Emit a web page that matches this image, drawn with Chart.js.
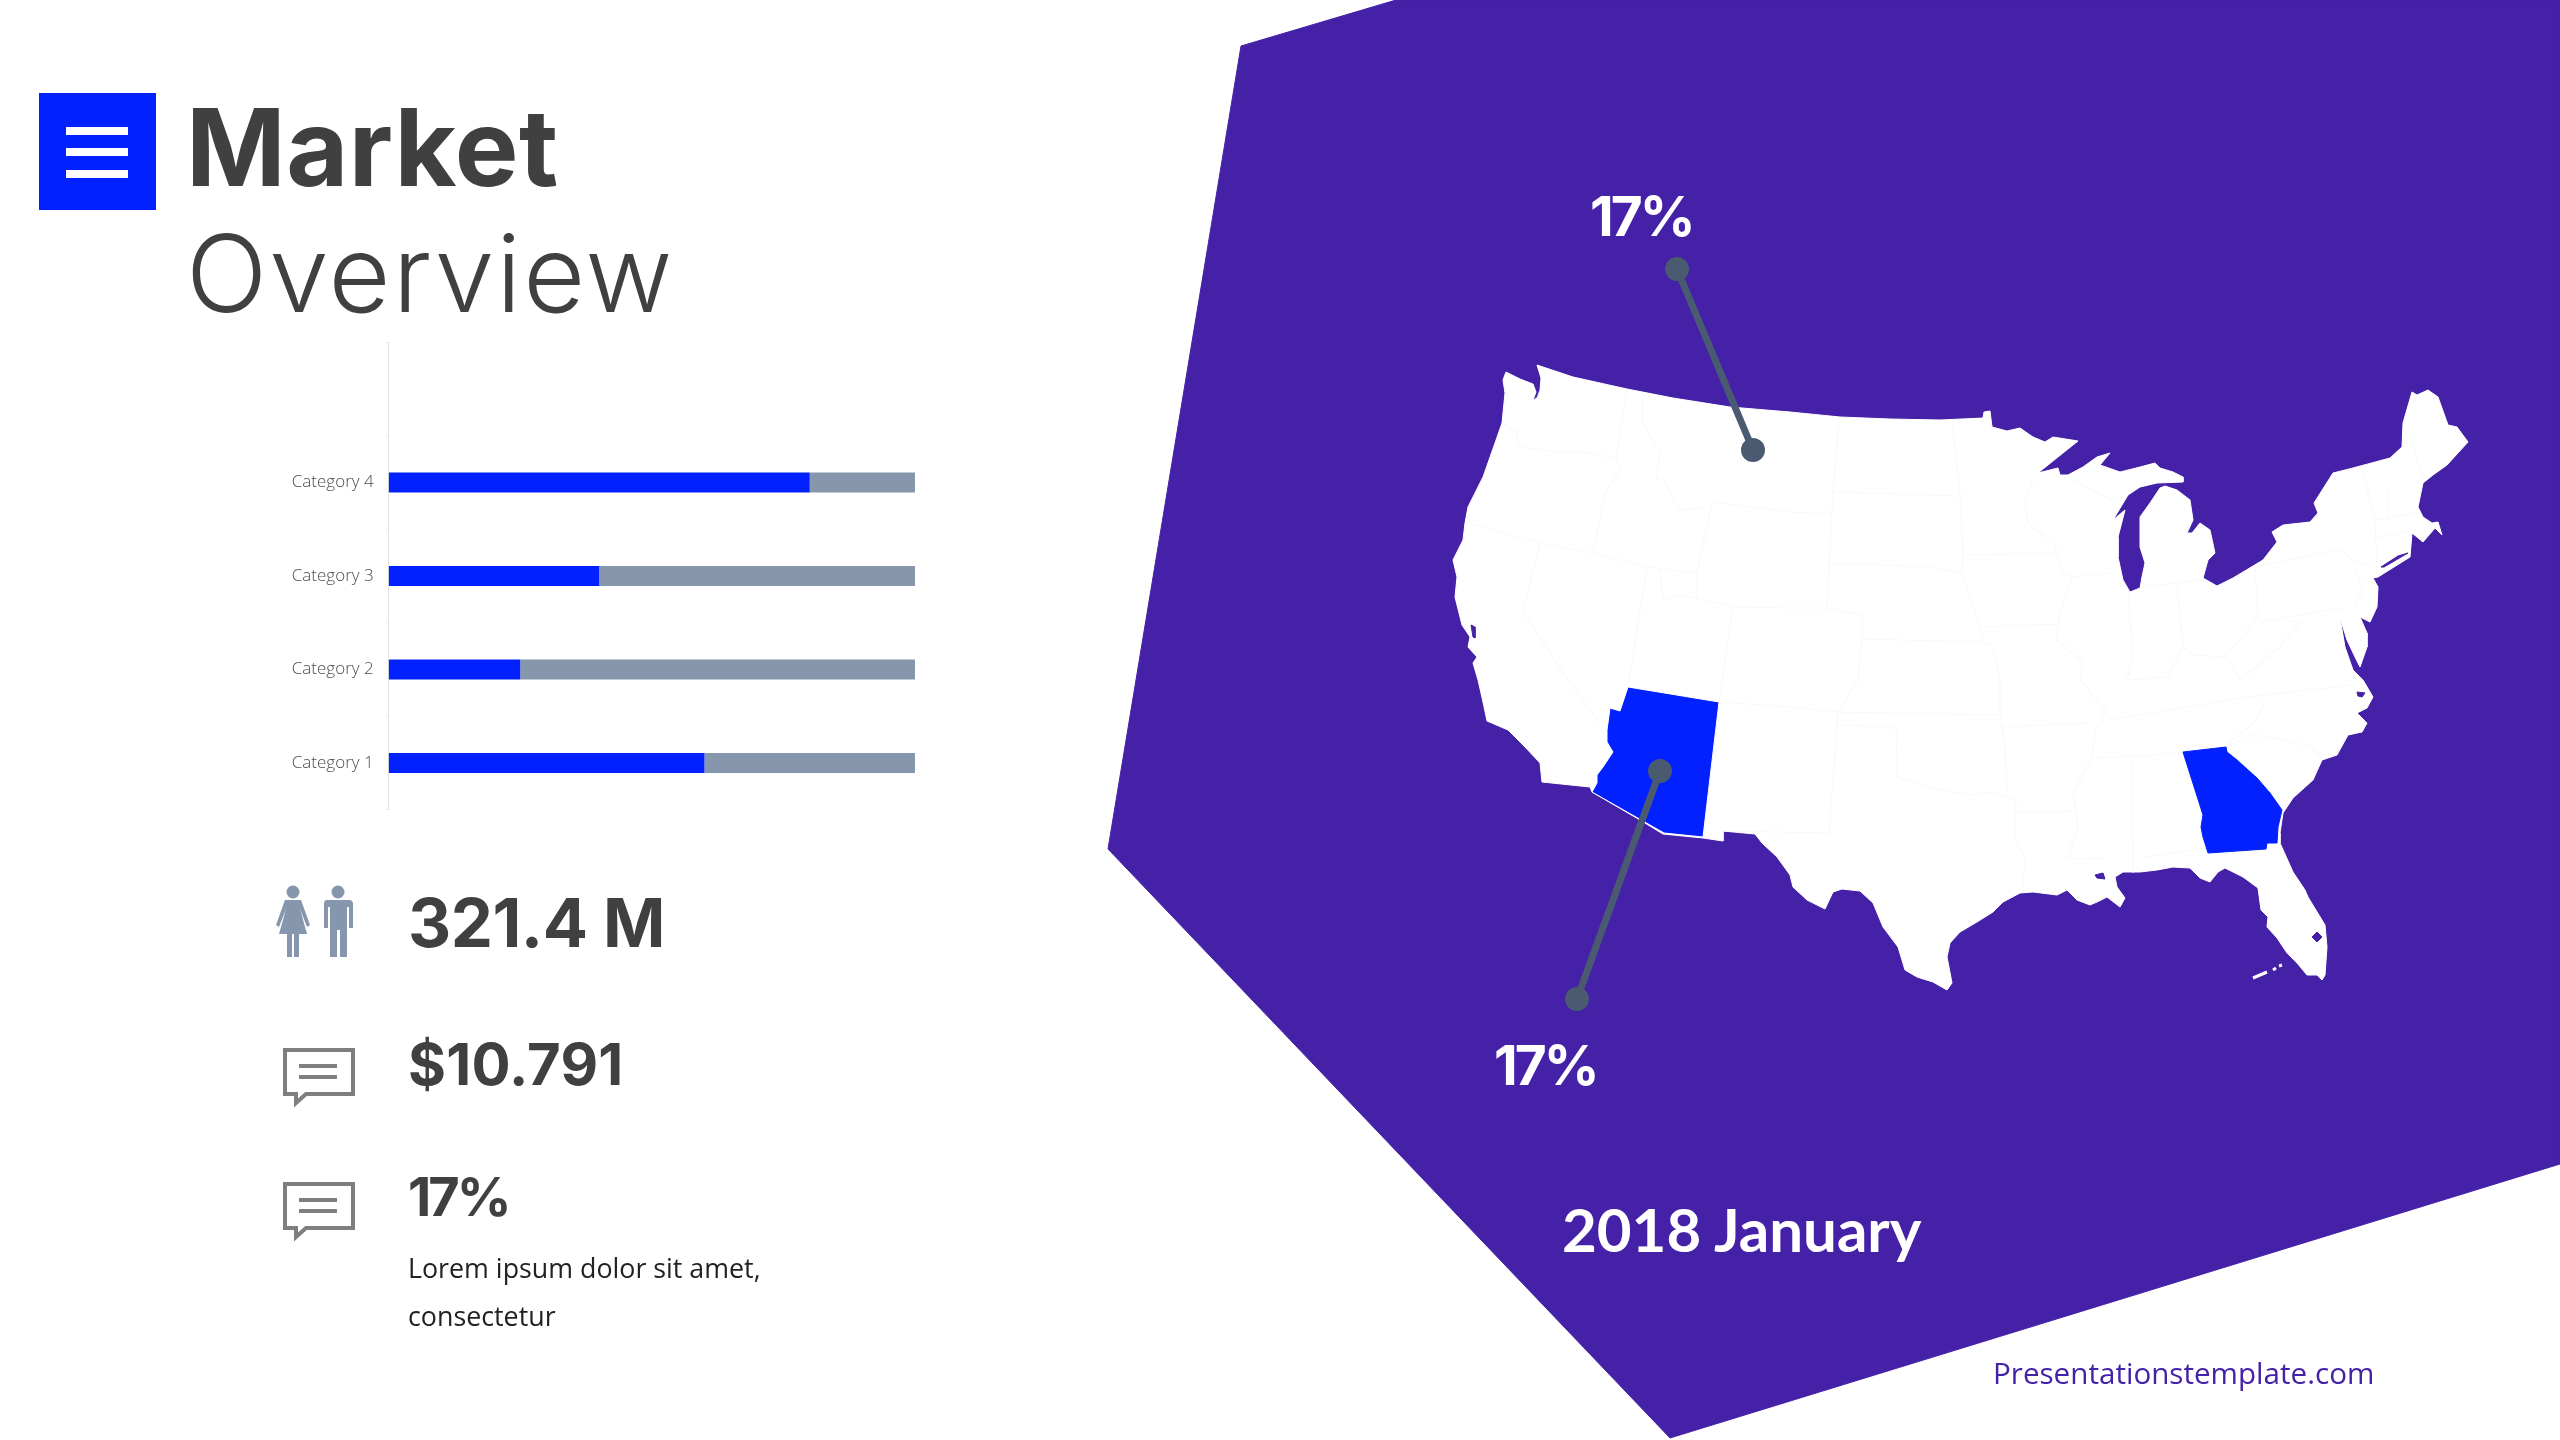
<!DOCTYPE html>
<html>
<head>
<meta charset="utf-8">
<title>Market Overview</title>
<script src="https://cdn.jsdelivr.net/npm/chart.js@4"></script>
<style>
  html, body { margin: 0; padding: 0; background: #fff; width: 2560px; height: 1440px; overflow: hidden; }
  canvas, svg { position: absolute; }
  .t { position: absolute; line-height: 1; white-space: nowrap; font-family: Inter, sans-serif; color: #404040; }
  .b { font-weight: 700; }
  .w { color: #fff; }
  .o { font-family: "Open Sans", sans-serif; }
</style>
</head>
<body>
<canvas id="graficoMapa" width="2560" height="1440" style="left:0;top:0"></canvas>

<svg width="2560" height="1440" style="left:0;top:0">
  <rect x="39" y="93" width="117" height="117" fill="#0320ff"/>
  <rect x="66" y="127" width="62" height="8" fill="#fff"/>
  <rect x="66" y="148" width="62" height="8" fill="#fff"/>
  <rect x="66" y="170" width="62" height="8" fill="#fff"/>
  <g fill="#8596ad">
    <circle cx="293" cy="892" r="6.5"/>
    <path d="M285 900h16l9 25-3 2-7-18 7 25h-8v23h-5v-23h-2v23h-5v-23h-8l7-25-7 18-3-2z"/>
    <circle cx="338" cy="892" r="6.5"/>
    <path d="M327 900h22q4 0 4 4v24h-4v-21h-2v50h-7v-27h-3v27h-7v-50h-2v21h-4v-24q0-4 3-4z"/>
  </g>
  <g fill="none" stroke="#7f7f7f" stroke-width="4">
    <path d="M285 1050h68v44h-47l-10 9v-9h-11z"/>
    <path d="M299 1066h38M299 1077h38"/>
    <path d="M285 1184h68v44h-47l-10 9v-9h-11z"/>
    <path d="M299 1200h38M299 1211h38"/>
  </g>
</svg>

<div class="t b" style="left:186px;top:94px;font-size:107px;letter-spacing:0.5px">Market</div>
<div class="t" style="left:186px;top:220px;font-size:107px;font-weight:300;letter-spacing:2px">Overview</div>

<canvas id="graficoBarras" width="700" height="512" style="left:240px;top:320px"></canvas>

<div class="t b" style="left:408px;top:889px;font-size:67px;letter-spacing:-0.5px">321.4 M</div>
<div class="t b" style="left:408px;top:1035px;font-size:58px;letter-spacing:0.2px">$10.791</div>
<div class="t b" style="left:408px;top:1170px;font-size:54px;letter-spacing:-3px">17%</div>
<div class="t o" style="left:408px;top:1255px;font-size:26.8px;color:#222">Lorem ipsum dolor sit amet,</div>
<div class="t o" style="left:408px;top:1303px;font-size:26.8px;color:#222">consectetur</div>

<div class="t b w" style="left:1590px;top:189px;font-size:55px;letter-spacing:-3px">17%</div>
<div class="t b w" style="left:1494px;top:1038px;font-size:55px;letter-spacing:-3px">17%</div>
<div class="t b w" style="left:1562px;top:1199px;font-size:60px;font-family:Lato,sans-serif">2018 January</div>
<div class="t o" style="left:1993px;top:1358px;font-size:29.6px;color:#4521a8">Presentationstemplate.com</div>

<script>
// datos del grafico de barras
const categorias = ["", "Category 4", "Category 3", "Category 2", "Category 1"];
const serieAzul = [null, 80, 40, 25, 60];
const serieGris = [null, 20, 60, 75, 40];

// fondo morado
const fondo = [[1396,0],[1241,46],[1108,849],[1670,1438],[2560,1164],[2560,0]];

// contorno de EEUU
const contorno = [
  [1506,372],[1520,379],[1533,384],[1536,392],[1533,400],[1537,398],[1540,390],[1541,378],[1537,365],
  [1573,377],[1627,389],[1673,398],[1730,407],[1790,412],[1840,417],[1890,419],[1940,420],[1983,418],
  [1984,412],[1990,411],[1992,427],[2007,431],[2020,428],[2033,437],[2045,442],[2053,437],[2078,441],
  [2038,473],[2058,468],[2060,475],[2068,475],[2083,467],[2097,457],[2110,453],[2100,465],[2120,472],
  [2140,467],[2155,463],[2160,468],[2173,472],[2183,477],[2183,482],[2157,483],[2140,487],[2128,495],
  [2113,520],[2125,510],[2118,537],[2118,557],[2123,580],[2130,592],[2140,588],[2142,577],[2145,563],
  [2140,547],[2140,517],[2150,503],[2160,488],[2165,486],[2177,490],[2190,500],[2193,520],[2187,533],
  [2192,533],[2200,523],[2210,530],[2215,553],[2208,560],[2203,578],[2217,586],[2233,578],[2263,560],
  [2277,542],[2272,532],[2283,525],[2310,522],[2318,513],[2314,503],[2333,473],[2353,468],[2390,458],
  [2402,447],[2403,423],[2412,392],[2417,395],[2428,390],[2438,397],[2448,425],[2457,427],[2468,442],
  [2447,465],[2433,475],[2423,483],[2418,507],[2423,517],[2432,523],[2438,522],[2442,535],[2435,528],
  [2423,542],[2412,533],[2410,557],[2378,577],[2373,578],[2378,587],[2377,607],[2370,622],[2360,617],
  [2367,633],[2367,647],[2360,667],[2355,657],[2347,640],[2340,618],[2345,647],[2353,670],[2363,680],
  [2373,697],[2367,708],[2357,713],[2367,723],[2362,732],[2348,735],[2337,755],[2322,760],[2313,780],
  [2293,798],[2283,813],[2280,833],[2280,843],[2293,872],[2305,890],[2308,897],[2325,925],[2327,947],
  [2325,975],[2322,980],[2317,975],[2307,975],[2297,963],[2287,953],[2277,938],[2267,927],[2268,917],
  [2261,910],[2258,888],[2243,877],[2225,868],[2218,872],[2210,882],[2200,878],[2190,868],[2173,867],
  [2157,870],[2140,872],[2123,872],[2115,877],[2117,887],[2125,898],[2120,907],[2107,897],[2097,902],
  [2090,905],[2077,900],[2067,890],[2057,895],[2033,892],[2020,893],[2003,902],[1993,912],[1977,922],
  [1960,932],[1950,943],[1947,957],[1952,983],[1947,990],[1933,982],[1917,977],[1905,970],[1898,947],
  [1883,927],[1873,903],[1860,891],[1842,889],[1833,892],[1825,909],[1807,900],[1793,887],[1790,875],
  [1777,857],[1762,843],[1755,834],[1723,831],[1723,841],[1703,838],[1663,834],[1640,820],[1592,792],
  [1590,787],[1542,782],[1540,763],[1525,747],[1508,730],[1487,721],[1483,702],[1478,680],[1473,663],
  [1477,657],[1468,647],[1470,637],[1462,625],[1455,597],[1457,577],[1453,560],[1463,540],[1465,523],
  [1468,507],[1483,477],[1495,443],[1502,423],[1505,393],[1503,380]
];

const arizona = [
  [1628,687],[1719,702],[1703,837],[1664,833],[1592,792],[1597,783],[1597,775],[1603,767],[1613,752],
  [1607,742],[1607,730],[1610,708],[1620,711]
];
const georgia = [
  [2183,752],[2226,747],[2227,752],[2237,760],[2257,778],[2270,793],[2282,810],[2278,827],[2277,843],
  [2267,843],[2266,849],[2208,853],[2203,837],[2201,827],[2203,815]
];

// agua dentro del contorno
const lagos = [
  [[2317,932],[2322,937],[2317,942],[2312,937]],
  [[2381,567],[2398,556],[2408,553],[2396,560],[2384,567]],
  [[2095,875],[2103,873],[2105,879],[2097,878]],
  [[2357,692],[2365,693],[2362,697],[2358,696]],
  [[1471,625],[1475,627],[1475,638],[1473,637]]
];
const cayos = [[2253,978],[2267,972],null,[2273,970],[2276,968],null,[2279,966],[2282,965]];

// fronteras entre estados, null corta la linea
const fronteras = [
  [1503,423],[1517,433],[1518,447],[1557,452],[1592,453],[1616,459],null,
  [1627,389],[1616,459],[1620,470],[1605,493],[1603,503],[1593,553],null,
  [1643,392],[1642,420],[1660,453],[1656,478],[1665,480],[1678,510],[1707,508],null,
  [1712,502],[1697,573],[1697,598],null,
  [1712,502],[1790,512],[1832,514],null,
  [1468,523],[1540,543],[1593,553],[1647,567],[1697,573],null,
  [1540,543],[1523,612],[1568,680],[1603,727],null,
  [1647,567],[1628,687],null,
  [1660,568],[1663,600],[1678,596],[1697,598],[1733,607],[1790,608],[1827,608],[1862,615],[1862,639],[1983,642],null,
  [1733,607],[1719,702],null,
  [1839,423],[1833,492],[1827,608],null,
  [1833,492],[1960,496],null,
  [1832,563],[1928,567],[1962,573],[1980,627],[1983,642],[1993,647],[2000,680],[2000,715],[2005,747],[2007,795],null,
  [1952,423],[1960,493],[1963,553],[1962,573],null,
  [1963,555],[2057,553],null,
  [2033,480],[2025,500],[2028,523],[2055,545],[2062,573],[2072,577],[2112,573],null,
  [2073,480],[2115,502],null,
  [1980,627],[2058,624],[2063,603],[2072,577],null,
  [2058,624],[2057,640],[2083,663],[2080,680],[2107,712],[2095,730],[2092,758],[2073,793],[2078,827],[2067,859],[2105,858],null,
  [1862,639],[1858,680],[1838,712],null,
  [2128,592],[2133,660],[2127,680],[2168,677],[2183,647],[2177,585],null,
  [2140,587],[2202,580],null,
  [2255,567],[2258,618],null,
  [2255,567],[2340,549],[2353,560],[2377,567],null,
  [2260,622],[2347,607],null,
  [2353,560],[2363,590],[2355,605],null,
  [2183,647],[2193,655],[2225,657],[2240,640],[2257,618],null,
  [2228,658],[2240,680],[2280,647],[2300,623],[2282,620],null,
  [2363,472],[2375,520],[2377,563],null,
  [2388,487],[2387,520],null,
  [2410,435],[2423,480],null,
  [2375,520],[2417,513],null,
  [2375,538],[2408,532],null,
  [1719,702],[1790,707],[1838,712],[2000,715],null,
  [1838,712],[1837,725],[1896,727],[1897,777],[1930,788],[1970,795],[1987,792],[2007,797],[2016,800],[2015,840],[2025,857],[2023,887],null,
  [1838,712],[1829,833],[1723,831],null,
  [2016,812],[2073,811],null,
  [2002,727],[2088,723],null,
  [2132,758],[2133,873],null,
  [2100,721],[2140,715],[2247,697],[2353,685],null,
  [2092,758],[2140,756],[2183,752],null,
  [2227,745],[2255,722],[2265,700],null,
  [2226,747],[2253,735],[2287,740],[2313,748],[2322,758],null,
  [2143,857],[2208,848]
];

// lineas con punto
const lineaNorte = [[1677,269],[1753,450]];
const lineaSur = [[1660,771],[1577,999]];

const aXY = (p) => (p ? { x: p[0], y: p[1] } : { x: null, y: null });

function poligono(puntos, color, orden, borde) {
  return {
    data: puntos.concat([puntos[0]]).map(aXY),
    showLine: true,
    fill: "shape",
    backgroundColor: color,
    borderColor: borde || color,
    borderWidth: 1,
    pointRadius: 0,
    tension: 0,
    order: orden,
  };
}

function linea(puntos, color, ancho, radio, orden) {
  return {
    data: puntos.map(aXY),
    showLine: true,
    fill: false,
    borderColor: color,
    backgroundColor: color,
    borderWidth: ancho,
    pointRadius: radio,
    pointBorderWidth: 0,
    spanGaps: false,
    tension: 0,
    order: orden,
  };
}

new Chart(document.getElementById("graficoMapa").getContext("2d"), {
  type: "scatter",
  data: {
    datasets: [
      poligono(fondo, "#4521a8", 9),
      poligono(contorno, "#ffffff", 8),
      linea(fronteras, "#f9f9f9", 1.2, 0, 7),
      ...lagos.map((l) => poligono(l, "#4521a8", 6)),
      linea(cayos, "#ffffff", 3, 0, 5),
      poligono(arizona, "#0320ff", 4, "#ffffff"),
      poligono(georgia, "#0320ff", 4),
      linea(lineaNorte, "#4a5a70", 7, 12, 1),
      linea(lineaSur, "#4a5a70", 7, 12, 1),
    ],
  },
  options: {
    responsive: false,
    animation: false,
    events: [],
    layout: { padding: 0, autoPadding: false },
    plugins: { legend: { display: false }, tooltip: { enabled: false } },
    scales: {
      x: { type: "linear", min: 0, max: 2560, display: false },
      y: { type: "linear", min: 0, max: 1440, reverse: true, display: false },
    },
  },
});

new Chart(document.getElementById("graficoBarras").getContext("2d"), {
  type: "bar",
  data: {
    labels: categorias,
    datasets: [
      { label: "Serie 1", data: serieAzul, backgroundColor: "#0320ff", barPercentage: 0.2137, categoryPercentage: 1 },
      { label: "Serie 2", data: serieGris, backgroundColor: "#8596ad", barPercentage: 0.2137, categoryPercentage: 1 },
    ],
  },
  options: {
    indexAxis: "y",
    responsive: false,
    animation: false,
    events: [],
    layout: { padding: { top: 0, bottom: 0, right: 25, left: 0 }, autoPadding: false },
    plugins: { legend: { display: false }, tooltip: { enabled: false } },
    scales: {
      x: { stacked: true, min: 0, max: 100, display: false },
      y: {
        stacked: true,
        afterFit: (s) => { s.width = 148.7; },
        border: { color: "#e2e2e2" },
        grid: { drawOnChartArea: false, color: "#e8e8e8", tickLength: 3 },
        ticks: { color: "#4d4d4d", padding: 12, font: { family: "'Open Sans'", size: 17, weight: 300 } },
      },
    },
  },
});
</script>
</body>
</html>
